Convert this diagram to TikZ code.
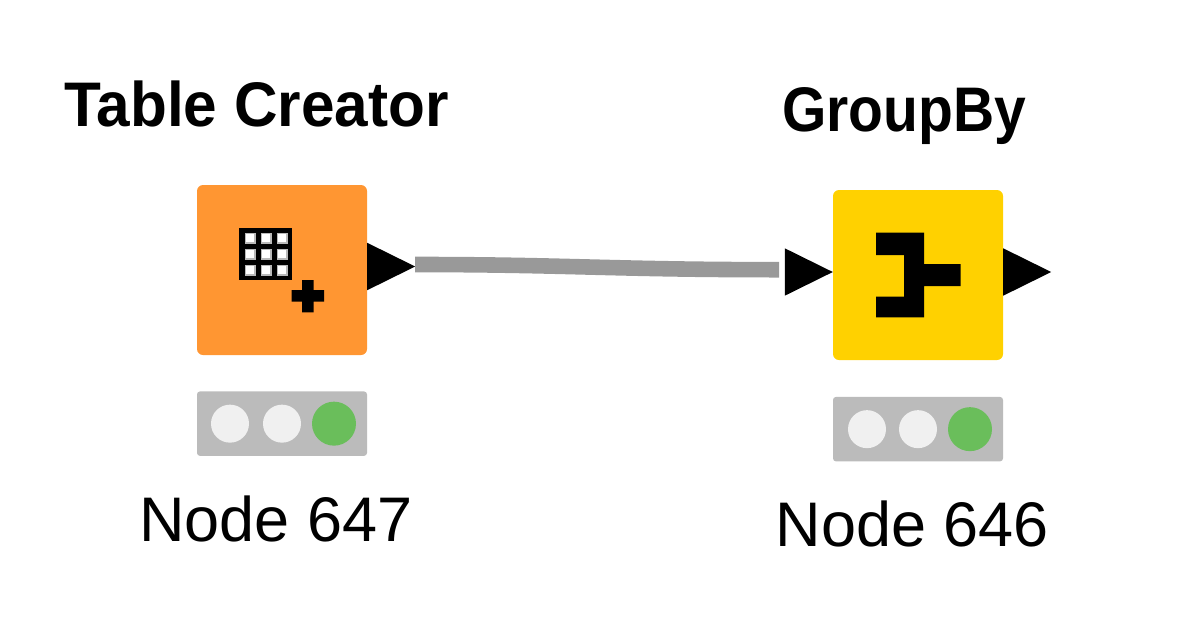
\documentclass[tikz,border=0pt]{standalone}
\usepackage{fontspec}
\setmainfont{Liberation Sans}
\newfontfamily\titlefont[FakeStretch=0.957]{Liberation Sans Bold}
\newfontfamily\grouptitlefont[FakeStretch=0.905]{Liberation Sans Bold}
\usepackage{tikz}
\newcommand{\nodewidth}{170pt}
\newcommand{\lightheight}{64.5pt}
\definecolor{myOrange}{RGB}{255,150,50}
\definecolor{myYellow}{RGB}{255,209,0}
\definecolor{myLight}{RGB}{187,187,187}
\definecolor{myLamp}{RGB}{240,240,240}
\definecolor{myGreen}{RGB}{106,190,91}
\definecolor{myLink}{RGB}{153,153,153}
\usetikzlibrary{calc,positioning,shapes.geometric}
\tikzset{
  x=1pt,y=1pt,
  box/.style={shape=rectangle,rounded corners=6pt,minimum size=\nodewidth,inner sep=0},
  light/.style={fill=myLight,shape=rectangle,rounded corners=3pt,minimum width=\nodewidth,minimum height=\lightheight,inner sep=0},
  lamp/.style={fill=myLamp,shape=circle,minimum size=38pt,inner sep=0},
  lampon/.style={fill=myGreen,shape=circle,minimum size=44pt,inner sep=0},
  port/.style={fill=black,shape=isosceles triangle,isosceles triangle stretches,shape border rotate=0,minimum width=47.4pt,minimum height=48pt,inner sep=0,outer sep=0},
  title/.style={font=\titlefont\fontsize{63}{70}\selectfont,inner sep=0,text height=45pt,text depth=0pt},
  label/.style={font=\fontsize{63}{70}\selectfont,inner sep=0,text height=45pt,text depth=0pt},
  link/.style={draw=myLink,line width=15.6pt},
}
\begin{document}
\begin{tikzpicture}
      \useasboundingbox (0,0) rectangle (1200,-630);
      % left node
      \node (tablebox) [box,fill=myOrange] at (282,-270) {};
      \node (tableout) [port,right=0pt of tablebox.east,yshift=3.5pt] {};
      \node (tablelight) [light,below=36pt of tablebox] {};
      \node (tablelamp) [lamp] at ($(tablelight)+(0,0)$) {};
      \node (tablelampa) [lamp] at ($(tablelight)+(-52,0)$) {};
      \node (tablelampb) [lampon] at ($(tablelight)+(52,0)$) {};
      \node (tabletitle) [title,above=58pt of tablebox,xshift=-25.5pt] {Table Creator};
      \node (tablelabel) [label,below=40pt of tablelight,xshift=-6pt] {Node 647};
      % right node
      \node (groupbox) [box,fill=myYellow] at (918,-275) {};
      \node (groupin) [port,left=0pt of groupbox.west,yshift=3pt] {};
      \node (groupout) [port,right=0pt of groupbox.east,yshift=3pt] {};
      \node (grouplight) [light,below=36.5pt of groupbox] {};
      \node (grouplamp) [lamp] at ($(grouplight)+(0,0)$) {};
      \node (grouplampa) [lamp] at ($(grouplight)+(-51,0)$) {};
      \node (grouplampb) [lampon] at ($(grouplight)+(52,0)$) {};
      \node (grouptitle) [title,font=\grouptitlefont\fontsize{63}{70}\selectfont,above=58pt of groupbox,xshift=-14pt] {GroupBy};
      \node (grouplabel) [label,below=40pt of grouplight,xshift=-5.5pt] {Node 646};
      % table icon
      \fill [black] ($(tablebox)+(-42.7,42.3)$) rectangle ++(52.4,-52.3);
      \foreach \i in {0,1,2}
        \foreach \j in {0,1,2} {
          \fill [gray!55] ($(tablebox)+(-37.5,37.2)+(16*\i,-16*\j)$) rectangle ++(11,-11);
          \fill [white] ($(tablebox)+(-36,35.7)+(16*\i,-16*\j)$) rectangle ++(8,-8);
        }
      \fill [black] ($(tablebox)+(9.7,-20)$) rectangle ++(32.3,-11.5)
        ($(tablebox)+(20.2,-10)$) rectangle ++(11.3,-32.3);
      % groupby icon
      \fill [black] ($(groupbox)+(-42,42.3)$) -- ++(48,0) -- ++(0,-31.3) -- ++(36.7,0)
        -- ++(0,-22) -- ++(-36.7,0) -- ++(0,-31.3) -- ++(-48,0) -- ++(0,20.6)
        -- ++(28,0) -- ++(0,41.7) -- ++(-28,0) -- cycle;
      % connector
      \draw [link,shorten >=5.7pt] ([yshift=2pt]tableout.apex) .. controls ($(tableout.apex)+(150,2)$) and ($(groupin.lower side)+(-170,2.3)$) .. ([yshift=2.3pt]groupin.lower side);
\end{tikzpicture}
\end{document}
